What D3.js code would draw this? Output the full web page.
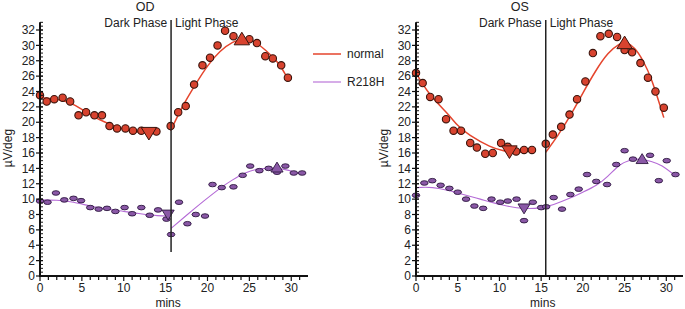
<!DOCTYPE html>
<html><head><meta charset="utf-8">
<script src="https://cdn.jsdelivr.net/npm/d3@7"></script>
<style>
body{margin:0;background:#fff;}
svg text{font-family:"Liberation Sans",Arial,sans-serif;fill:#222;}
</style></head>
<body><svg id="c" width="685" height="309"></svg>
<script>
// ---------- DATA ----------
const panelTitles = ["OD", "OS"];
const phaseLabels = ["Dark Phase", "Light Phase"];
const seriesNames = ["normal", "R218H"];
const xTicks = [0, 5, 10, 15, 20, 25, 30];
const yTicks = [0, 2, 4, 6, 8, 10, 12, 14, 16, 18, 20, 22, 24, 26, 28, 30, 32];
const lightOnset = [15.65, 15.55];

// OD normal points [min, uV/deg]
const odNormal = [[0,23.5],[0.8,22.7],[1.7,23.0],[2.7,23.2],[3.6,22.7],[4.6,20.9],[5.5,21.3],[6.5,20.9],[7.4,20.9],[8.3,19.5],[9.2,19.2],[10.2,19.2],[11.1,18.9],[12.1,18.9],[13.9,18.8],[15.6,19.5],[16.5,21.3],[17.4,22.1],[18.4,24.9],[19.4,27.4],[20.3,28.4],[21.2,30.0],[22.1,31.9],[23.1,31.2],[25.0,30.8],[25.9,30.3],[26.9,28.6],[27.8,28.3],[28.8,27.4],[29.6,25.8]];
const odNormalDarkFit = [[0,23.2],[2,23.0],[4,22.3],[6,21.0],[8,19.9],[10,19.1],[12,18.7],[14,18.6]];
const odNormalLightFit = [[15.6,18.9],[17,22.0],[18.5,24.8],[20,27.3],[21.5,29.2],[23,30.4],[24.3,30.8],[25.5,30.5],[27,29.3],[28.5,27.6],[29.6,25.6]];
const odNormalPeaks = [[13.0,18.6,"min"],[24.1,30.8,"max"]];

// OD R218H points
const odMut = [[0,9.75],[0.9,9.6],[1.9,10.8],[2.9,9.9],[4.0,10.1],[4.9,9.8],[6.0,8.9],[7.0,8.7],[8.0,8.8],[9.0,8.4],[10.1,8.9],[11.0,8.1],[12.1,8.9],[13.1,7.9],[14.1,8.6],[15.1,7.4],[15.65,5.4],[16.6,9.6],[17.6,6.8],[18.6,8.0],[19.7,7.8],[20.6,11.9],[21.7,11.5],[23.1,11.6],[24.2,13.1],[25.1,14.3],[26.2,13.7],[27.3,14.0],[28.3,13.5],[29.3,14.3],[30.3,13.4],[31.3,13.4]];
const odMutDarkFit = [[0,9.9],[2,9.85],[4,9.6],[6,9.1],[8,8.7],[10,8.4],[12,8.1],[14,7.85],[15.3,7.8]];
const odMutLightFit = [[15.65,6.2],[17.5,7.9],[19.5,9.7],[21.5,11.4],[23,12.5],[24.5,13.4],[26,13.9],[27.5,14.0],[29,13.9],[30.5,13.5],[31.3,13.2]];
const odMutPeaks = [[15.3,8.0,"min"],[28.3,14.1,"max"]];

// OS normal points
const osNormal = [[0,26.4],[0.8,25.1],[1.7,23.3],[2.7,23.0],[3.6,20.4],[4.5,18.9],[5.4,18.9],[6.5,17.3],[7.3,16.7],[8.3,15.9],[9.2,16.0],[10.2,17.3],[11.0,16.8],[12.0,16.2],[12.95,16.4],[13.9,16.4],[15.55,17.2],[16.4,18.4],[17.4,19.4],[18.4,21.0],[19.3,23.0],[20.3,25.3],[21.2,29.0],[22.1,31.2],[23.1,31.5],[24.1,31.1],[25.0,29.4],[25.9,29.1],[26.9,27.7],[27.8,25.8],[28.7,24.0],[29.7,21.9]];
const osNormalDarkFit = [[0,26.4],[1.7,23.6],[3.7,21.2],[5,19.6],[6.5,18.3],[8.8,16.9],[10.5,16.3],[12,16.1],[13.9,16.3]];
const osNormalLightFit = [[15.55,16.1],[17,18.3],[18.5,20.9],[20,23.8],[21.5,26.6],[23,28.9],[24.3,30.1],[25.2,30.3],[26.2,29.6],[27.2,28.0],[28.3,25.3],[29.7,20.6]];
const osNormalPeaks = [[11.2,16.2,"min"],[25.0,30.3,"max"]];

// OS R218H points
const osMut = [[0,10.5],[1.0,12.1],[1.95,12.4],[2.95,11.8],[4.0,11.4],[5.0,10.9],[6.0,10.0],[7.0,9.1],[8.05,8.8],[9.05,10.0],[10.1,9.6],[11.0,9.75],[12.05,10.0],[12.95,7.2],[14.0,9.6],[15.0,8.9],[15.6,9.0],[16.5,10.2],[17.5,8.7],[18.5,10.6],[19.5,11.3],[20.5,13.2],[21.6,12.3],[22.9,11.9],[24.0,14.5],[25.0,16.3],[26.0,15.2],[28.05,15.7],[29.1,12.4],[30.05,15.0],[31.1,13.2]];
const osMutFit = [[0,11.5],[2,11.5],[4,11.1],[5,10.8],[7.7,10.0],[10.5,9.2],[13,8.8],[15,8.9],[16.5,9.3],[18.4,10.1],[20,10.9],[21.6,11.8],[23,13.0],[24.4,14.4],[25.5,15.0],[26.8,15.2],[28.2,14.9],[29.5,14.3],[31,13.1]];
const osMutPeaks = [[12.95,8.8,"min"],[27.1,15.2,"max"]];

// ---------- STYLE ----------
const RED_LINE = "#e5452d", RED_FILL = "#d8432f", RED_STROKE = "#3a140c";
const PUR_LINE = "#b46ad6", PUR_FILL = "#8a58a6", PUR_STROKE = "#2e1840";

const svg = d3.select("#c");
const y = d3.scaleLinear().domain([0, 32]).range([276, 30]);

const panels = [
  {x0: 40, x1: 308, title: panelTitles[0], onset: lightOnset[0], vBottom: 252,
   normal: odNormal, nFits: [odNormalDarkFit, odNormalLightFit], nPeaks: odNormalPeaks,
   mut: odMut, mFits: [odMutDarkFit, odMutLightFit], mPeaks: odMutPeaks, ylabX: 12},
  {x0: 416, x1: 683, title: panelTitles[1], onset: lightOnset[1], vBottom: 276,
   normal: osNormal, nFits: [osNormalDarkFit, osNormalLightFit], nPeaks: osNormalPeaks,
   mut: osMut, mFits: [osMutFit], mPeaks: osMutPeaks, ylabX: 388}
];

panels.forEach(p => {
  const x = d3.scaleLinear().domain([0, 32]).range([p.x0, p.x1]);
  const g = svg.append("g");

  // fit lines
  const line = d3.line().x(d => x(d[0])).y(d => y(d[1])).curve(d3.curveNatural);
  p.nFits.forEach(f => g.append("path").attr("d", line(f)).attr("fill", "none")
    .attr("stroke", RED_LINE).attr("stroke-width", 1.5));
  p.mFits.forEach(f => g.append("path").attr("d", line(f)).attr("fill", "none")
    .attr("stroke", PUR_LINE).attr("stroke-width", 1.1));

  // points
  g.selectAll(null).data(p.normal).join("circle")
    .attr("cx", d => x(d[0])).attr("cy", d => y(d[1])).attr("r", 3.7)
    .attr("fill", RED_FILL).attr("stroke", RED_STROKE).attr("stroke-width", 1.1);
  g.selectAll(null).data(p.mut).join("ellipse")
    .attr("cx", d => x(d[0])).attr("cy", d => y(d[1])).attr("rx", 3.8).attr("ry", 2.3)
    .attr("fill", PUR_FILL).attr("stroke", PUR_STROKE).attr("stroke-width", 0.9);

  // triangles
  const tri = (d, s) => {
    const cx = x(d[0]), cy = y(d[1]);
    return d[2] === "max"
      ? `M${cx},${cy - s} L${cx + s * 1.1},${cy + s * 0.8} L${cx - s * 1.1},${cy + s * 0.8}Z`
      : `M${cx},${cy + s} L${cx + s * 1.1},${cy - s * 0.8} L${cx - s * 1.1},${cy - s * 0.8}Z`;
  };
  g.selectAll(null).data(p.nPeaks).join("path").attr("d", d => tri(d, 7))
    .attr("fill", RED_FILL).attr("stroke", RED_STROKE).attr("stroke-width", 1);
  g.selectAll(null).data(p.mPeaks).join("path").attr("d", d => tri(d, 5.5))
    .attr("fill", PUR_FILL).attr("stroke", PUR_STROKE).attr("stroke-width", 0.9);

  // vertical phase line
  g.append("line").attr("x1", x(p.onset)).attr("x2", x(p.onset))
    .attr("y1", 20).attr("y2", p.vBottom).attr("stroke", "#222").attr("stroke-width", 1.5);

  // y axis
  const ya = g.append("g").attr("transform", `translate(${p.x0},0)`);
  ya.append("line").attr("y1", y(33)).attr("y2", y(0)).attr("stroke", "#111").attr("stroke-width", 2);
  ya.selectAll(null).data(d3.range(0, 33.01, 0.5)).join("line")
    .attr("x1", 0).attr("x2", 3).attr("y1", d => y(d)).attr("y2", d => y(d))
    .attr("stroke", "#111").attr("stroke-width", 1);
  ya.selectAll(null).data(yTicks).join("line")
    .attr("x1", -4).attr("x2", 3).attr("y1", d => y(d)).attr("y2", d => y(d))
    .attr("stroke", "#111").attr("stroke-width", 1.2);
  ya.selectAll(null).data(yTicks).join("text")
    .attr("x", -5).attr("y", d => y(d)).attr("dy", "0.35em").attr("text-anchor", "end")
    .attr("font-size", 12).text(d => d);

  // x axis
  const xa = g.append("g").attr("transform", `translate(0,${y(0)})`);
  xa.append("line").attr("x1", p.x0 - 1).attr("x2", p.x1).attr("stroke", "#111").attr("stroke-width", 2);
  xa.selectAll(null).data(d3.range(0, 32)).join("line")
    .attr("x1", d => x(d)).attr("x2", d => x(d)).attr("y1", 0).attr("y2", d => d % 5 === 0 ? 5 : 4)
    .attr("stroke", "#111").attr("stroke-width", 1.2);
  xa.selectAll(null).data(xTicks).join("text")
    .attr("x", d => x(d)).attr("y", 16).attr("text-anchor", "middle")
    .attr("font-size", 12).text(d => d);

  // labels
  g.append("text").attr("x", x(p.onset) - 3).attr("y", 307).attr("text-anchor", "middle")
    .attr("font-size", 12).text("mins");
  g.append("text").attr("transform", `translate(${p.ylabX},148) rotate(-90)`)
    .attr("text-anchor", "middle").attr("font-size", 12).text("µV/deg");
  g.append("text").attr("x", x(p.onset) - 26).attr("y", 11).attr("text-anchor", "middle")
    .attr("font-size", 12.5).text(p.title);
  g.append("text").attr("x", x(p.onset) - 4).attr("y", 27).attr("text-anchor", "end")
    .attr("font-size", 12).text(phaseLabels[0]);
  g.append("text").attr("x", x(p.onset) + 4).attr("y", 27).attr("text-anchor", "start")
    .attr("font-size", 12).text(phaseLabels[1]);
});

// legend
const leg = svg.append("g");
[[RED_LINE, 54], [PUR_LINE, 82]].forEach((c, i) => {
  leg.append("line").attr("x1", 313).attr("x2", 341).attr("y1", c[1]).attr("y2", c[1])
    .attr("stroke", c[0]).attr("stroke-width", i === 0 ? 1.5 : 1.1);
  leg.append("text").attr("x", 347).attr("y", c[1]).attr("dy", "0.35em")
    .attr("font-size", 12).text(seriesNames[i]);
});
</script></body></html>
